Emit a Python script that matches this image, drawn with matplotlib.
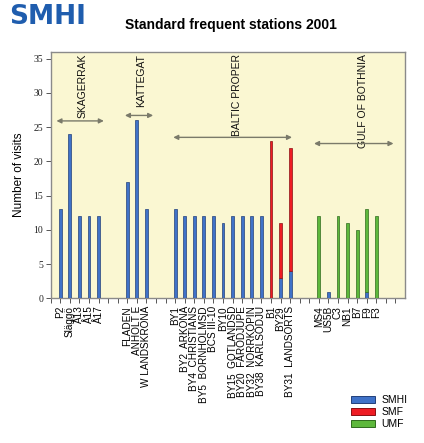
import matplotlib
matplotlib.use("Agg")
import matplotlib.pyplot as plt
from matplotlib.patches import Patch
import numpy as np

# ---- data ----
categories = ["P2", "Släggö", "Å13", "Å15", "Å17", "", "",
              "FLADEN", "ANHOLT E", "W LANDSKRONA", "", "",
              "BY1", "BY2  ARKONA", "BY4  CHRISTIANS", "BY5  BORNHOLMSD", "BCS III-10",
              "BY10", "BY15  GOTLANDSD", "BY20  FÅRÖDJUPE", "BY32  NORRKÖPIN",
              "BY38  KARLSÖDJU", "B1", "BY29", "BY31  LANDSORTS", "", "",
              "MS4", "US5B", "C3", "NB1", "B7", "F9", "F3"]
smhi = [13, 24, 12, 12, 12, 0, 0,
        17, 26, 13, 0, 0,
        13, 12, 12, 12, 12, 11, 12, 12, 12, 12, 0, 3, 4, 0, 0,
        0, 1, 0, 0, 0, 1, 0]
smf = [0, 0, 0, 0, 0, 0, 0,
       0, 0, 0, 0, 0,
       0, 0, 0, 0, 0, 0, 0, 0, 0, 0, 23, 8, 18, 0, 0,
       0, 0, 0, 0, 0, 0, 0]
umf = [0, 0, 0, 0, 0, 0, 0,
       0, 0, 0, 0, 0,
       0, 0, 0, 0, 0, 0, 0, 0, 0, 0, 0, 0, 0, 0, 0,
       12, 0, 12, 11, 10, 12, 12]
series_names = ["SMHI", "SMF", "UMF"]
regions = ["SKAGERRAK", "KATTEGAT", "BALTIC PROPER", "GULF OF BOTHNIA"]
region_start = [-0.4, 6.75, 11.8, 26.5]
region_end = [4.55, 9.7, 24.2, 34.8]
region_arrow_y = [25.9, 26.7, 23.5, 22.6]
region_text_x = [2.3, 8.4, 18.5, 31.6]

colors = ["#3F72C8", "#EE1C24", "#5DB83C"]
edges = ["#23407A", "#8A1014", "#2F6A1E"]

fig = plt.figure(figsize=(4.24, 4.43), dpi=100)
fig.patch.set_facecolor("white")
ax = fig.add_axes([50.7 / 424, 1 - 298.4 / 443, (405 - 50.7) / 424, (298.4 - 51.7) / 443])
ax.set_facecolor("#FAF7D2")

x = np.arange(len(categories))
w = 0.3
bottom = np.zeros(len(categories))
for vals, c, e in zip([smhi, smf, umf], colors, edges):
    v = np.array(vals, dtype=float)
    m = v > 0
    ax.bar(x[m], v[m], width=w, bottom=bottom[m], color=c, edgecolor=e, linewidth=0.5, zorder=3)
    bottom += v

ax.set_xlim(-1, 36)
ax.set_ylim(0, 36)
ax.set_yticks(np.arange(0, 36, 5))
ax.set_yticklabels([str(t) for t in range(0, 36, 5)], family="Liberation Serif", fontsize=7, color="#222222")
ax.set_xticks(np.arange(-1, 36))
labels = [""] + categories + ["", ""]
ax.set_xticklabels(labels, rotation=90, family="Liberation Sans", fontsize=7.2)
ax.tick_params(axis="both", direction="out", length=3.5, width=0.7, color="#555555", pad=2)
for s in ["top", "right", "left", "bottom"]:
    ax.spines[s].set_color("#8a8a8a")
    ax.spines[s].set_linewidth(1.0)

for name, xs, xe, ya, xt in zip(regions, region_start, region_end, region_arrow_y, region_text_x):
    ax.annotate("", xy=(xs, ya), xytext=(xe, ya),
                arrowprops=dict(arrowstyle="<|-|>", color="#7a7a6a", lw=1.0, mutation_scale=7,
                                shrinkA=0, shrinkB=0), zorder=4)
    ax.text(xt, 35.7, name, rotation=90, ha="center", va="top", family="Liberation Sans",
            fontsize=7.5, color="#111111", clip_on=False)

ax.set_ylabel("Number of visits", family="Liberation Sans", fontsize=8.5, labelpad=6)

fig.text(231 / 424, 1 - 25 / 443, "Standard frequent stations 2001", ha="center", va="center",
         family="Liberation Sans", fontweight="bold", fontsize=10)
fig.text(9 / 424, 1 - 17 / 443, "SMHI", ha="left", va="center", family="DejaVu Sans",
         fontweight="heavy", fontsize=19, color="#1F5DAE")

handles = [Patch(facecolor=c, edgecolor=e, linewidth=0.7) for c, e in zip(colors, edges)]
fig.legend(handles, series_names, loc="upper left", bbox_to_anchor=(344 / 424, 1 - 388 / 443),
           frameon=False, prop={"family": "Liberation Sans", "size": 7.5},
           handlelength=2.3, handleheight=0.7, labelspacing=0.2, handletextpad=0.6, borderpad=0.2)

fig.savefig("out.png", dpi=100)
